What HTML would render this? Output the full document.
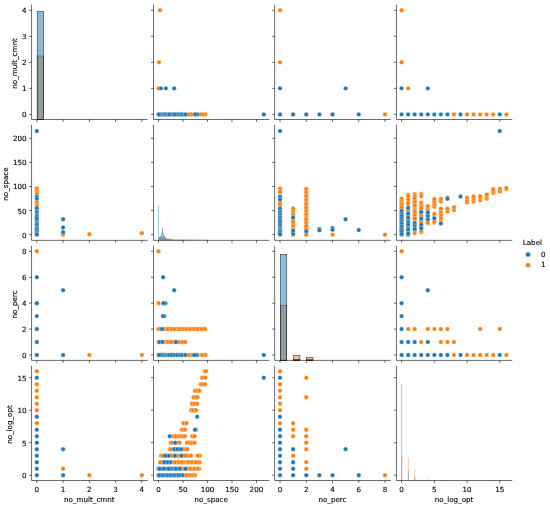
<!DOCTYPE html>
<html><head><meta charset="utf-8"><title>pairplot</title>
<style>html,body{margin:0;padding:0;background:#fff}body{width:550px;height:508px;overflow:hidden}</style>
</head><body>
<svg width="550" height="508" viewBox="0 0 550 508" style="display:block">
<rect width="550" height="508" fill="#fff"/>
<g>
<rect x="37.15" y="56.00" width="6.56" height="63.50" fill="#ff7f0e" fill-opacity="0.5" stroke="#000" stroke-width="0.42"/><rect x="37.15" y="11.40" width="6.56" height="108.10" fill="#1f77b4" fill-opacity="0.5" stroke="#000" stroke-width="0.42"/>
<path d="M31.55 5.10V119.50H147.15" fill="none" stroke="#000" stroke-width="0.58" stroke-linecap="square"/>
<path d="M36.85 119.50v2.5M63.10 119.50v2.5M89.35 119.50v2.5M115.60 119.50v2.5M141.85 119.50v2.5M31.55 114.40h-2.5M31.55 88.37h-2.5M31.55 62.34h-2.5M31.55 36.31h-2.5M31.55 10.28h-2.5" stroke="#000" stroke-width="0.58" fill="none"/>
</g>
<g>
<g stroke="#fff" stroke-width="0.34"><circle cx="204.04" cy="114.40" r="2.22" fill="#ff7f0e"/><circle cx="201.10" cy="114.40" r="2.22" fill="#ff7f0e"/><circle cx="190.33" cy="114.40" r="2.22" fill="#ff7f0e"/><circle cx="187.39" cy="114.40" r="2.22" fill="#ff7f0e"/><circle cx="162.91" cy="114.40" r="2.22" fill="#ff7f0e"/><circle cx="160.46" cy="114.40" r="2.22" fill="#ff7f0e"/><circle cx="158.50" cy="114.40" r="2.22" fill="#ff7f0e"/><circle cx="196.21" cy="114.40" r="2.22" fill="#1f77b4"/><circle cx="183.96" cy="114.40" r="2.22" fill="#1f77b4"/><circle cx="182.50" cy="114.40" r="2.22" fill="#1f77b4"/><circle cx="179.56" cy="114.40" r="2.22" fill="#1f77b4"/><circle cx="176.13" cy="114.40" r="2.22" fill="#1f77b4"/><circle cx="173.19" cy="114.40" r="2.22" fill="#1f77b4"/><circle cx="172.21" cy="114.40" r="2.22" fill="#1f77b4"/><circle cx="171.23" cy="114.40" r="2.22" fill="#1f77b4"/><circle cx="170.25" cy="114.40" r="2.22" fill="#1f77b4"/><circle cx="167.31" cy="114.40" r="2.22" fill="#1f77b4"/><circle cx="164.87" cy="114.40" r="2.22" fill="#1f77b4"/><circle cx="162.91" cy="114.40" r="2.22" fill="#1f77b4"/><circle cx="160.95" cy="114.40" r="2.22" fill="#1f77b4"/><circle cx="158.99" cy="114.40" r="2.22" fill="#1f77b4"/><circle cx="205.51" cy="114.40" r="2.22" fill="#ff7f0e"/><circle cx="202.57" cy="114.40" r="2.22" fill="#ff7f0e"/><circle cx="200.12" cy="114.40" r="2.22" fill="#ff7f0e"/><circle cx="191.31" cy="114.40" r="2.22" fill="#ff7f0e"/><circle cx="188.37" cy="114.40" r="2.22" fill="#ff7f0e"/><circle cx="197.19" cy="114.40" r="2.22" fill="#1f77b4"/><circle cx="194.98" cy="114.40" r="2.22" fill="#1f77b4"/><circle cx="185.43" cy="114.40" r="2.22" fill="#1f77b4"/><circle cx="181.52" cy="114.40" r="2.22" fill="#1f77b4"/><circle cx="178.58" cy="114.40" r="2.22" fill="#1f77b4"/><circle cx="176.62" cy="114.40" r="2.22" fill="#1f77b4"/><circle cx="174.42" cy="114.40" r="2.22" fill="#1f77b4"/><circle cx="168.54" cy="114.40" r="2.22" fill="#1f77b4"/><circle cx="165.60" cy="114.40" r="2.22" fill="#1f77b4"/><circle cx="163.89" cy="114.40" r="2.22" fill="#1f77b4"/><circle cx="161.93" cy="114.40" r="2.22" fill="#1f77b4"/><circle cx="160.26" cy="114.40" r="2.22" fill="#1f77b4"/><circle cx="158.74" cy="114.40" r="2.22" fill="#1f77b4"/><circle cx="263.79" cy="114.40" r="2.22" fill="#1f77b4"/><circle cx="158.50" cy="88.37" r="2.22" fill="#ff7f0e"/><circle cx="160.95" cy="88.37" r="2.22" fill="#1f77b4"/><circle cx="165.85" cy="88.37" r="2.22" fill="#1f77b4"/><circle cx="174.17" cy="88.37" r="2.22" fill="#1f77b4"/><circle cx="158.99" cy="62.34" r="2.22" fill="#ff7f0e"/><circle cx="159.97" cy="10.28" r="2.22" fill="#ff7f0e"/></g>
<path d="M153.50 5.10V119.50H269.00" fill="none" stroke="#000" stroke-width="0.58" stroke-linecap="square"/>
<path d="M158.50 119.50v2.5M182.99 119.50v2.5M207.47 119.50v2.5M231.95 119.50v2.5M256.44 119.50v2.5M153.50 114.40h-2.5M153.50 88.37h-2.5M153.50 62.34h-2.5M153.50 36.31h-2.5M153.50 10.28h-2.5" stroke="#000" stroke-width="0.58" fill="none"/>
</g>
<g>
<g stroke="#fff" stroke-width="0.34"><circle cx="280.00" cy="114.40" r="2.22" fill="#ff7f0e"/><circle cx="293.12" cy="114.40" r="2.22" fill="#ff7f0e"/><circle cx="306.25" cy="114.40" r="2.22" fill="#ff7f0e"/><circle cx="332.50" cy="114.40" r="2.22" fill="#ff7f0e"/><circle cx="385.00" cy="114.40" r="2.22" fill="#ff7f0e"/><circle cx="280.00" cy="114.40" r="2.22" fill="#1f77b4"/><circle cx="293.12" cy="114.40" r="2.22" fill="#1f77b4"/><circle cx="306.25" cy="114.40" r="2.22" fill="#1f77b4"/><circle cx="319.38" cy="114.40" r="2.22" fill="#1f77b4"/><circle cx="332.50" cy="114.40" r="2.22" fill="#1f77b4"/><circle cx="358.75" cy="114.40" r="2.22" fill="#1f77b4"/><circle cx="280.00" cy="88.37" r="2.22" fill="#1f77b4"/><circle cx="345.62" cy="88.37" r="2.22" fill="#1f77b4"/><circle cx="280.00" cy="62.34" r="2.22" fill="#ff7f0e"/><circle cx="280.00" cy="10.28" r="2.22" fill="#ff7f0e"/></g>
<path d="M274.65 5.10V119.50H390.30" fill="none" stroke="#000" stroke-width="0.58" stroke-linecap="square"/>
<path d="M280.00 119.50v2.5M306.25 119.50v2.5M332.50 119.50v2.5M358.75 119.50v2.5M385.00 119.50v2.5M274.65 114.40h-2.5M274.65 88.37h-2.5M274.65 62.34h-2.5M274.65 36.31h-2.5M274.65 10.28h-2.5" stroke="#000" stroke-width="0.58" fill="none"/>
</g>
<g>
<g stroke="#fff" stroke-width="0.34"><circle cx="401.60" cy="114.40" r="2.22" fill="#1f77b4"/><circle cx="408.15" cy="114.40" r="2.22" fill="#1f77b4"/><circle cx="414.69" cy="114.40" r="2.22" fill="#1f77b4"/><circle cx="421.24" cy="114.40" r="2.22" fill="#1f77b4"/><circle cx="427.79" cy="114.40" r="2.22" fill="#1f77b4"/><circle cx="434.34" cy="114.40" r="2.22" fill="#1f77b4"/><circle cx="440.88" cy="114.40" r="2.22" fill="#1f77b4"/><circle cx="447.43" cy="114.40" r="2.22" fill="#1f77b4"/><circle cx="453.98" cy="114.40" r="2.22" fill="#ff7f0e"/><circle cx="460.52" cy="114.40" r="2.22" fill="#1f77b4"/><circle cx="467.07" cy="114.40" r="2.22" fill="#ff7f0e"/><circle cx="473.62" cy="114.40" r="2.22" fill="#ff7f0e"/><circle cx="480.16" cy="114.40" r="2.22" fill="#ff7f0e"/><circle cx="486.71" cy="114.40" r="2.22" fill="#ff7f0e"/><circle cx="493.26" cy="114.40" r="2.22" fill="#ff7f0e"/><circle cx="499.81" cy="114.40" r="2.22" fill="#1f77b4"/><circle cx="506.35" cy="114.40" r="2.22" fill="#ff7f0e"/><circle cx="401.60" cy="88.37" r="2.22" fill="#1f77b4"/><circle cx="408.15" cy="88.37" r="2.22" fill="#ff7f0e"/><circle cx="427.79" cy="88.37" r="2.22" fill="#1f77b4"/><circle cx="401.60" cy="62.34" r="2.22" fill="#ff7f0e"/><circle cx="401.60" cy="10.28" r="2.22" fill="#ff7f0e"/></g>
<path d="M396.45 5.10V119.50H511.80" fill="none" stroke="#000" stroke-width="0.58" stroke-linecap="square"/>
<path d="M401.60 119.50v2.5M434.34 119.50v2.5M467.07 119.50v2.5M499.81 119.50v2.5M396.45 114.40h-2.5M396.45 88.37h-2.5M396.45 62.34h-2.5M396.45 36.31h-2.5M396.45 10.28h-2.5" stroke="#000" stroke-width="0.58" fill="none"/>
</g>
<g>
<g stroke="#fff" stroke-width="0.34"><circle cx="36.85" cy="189.84" r="2.22" fill="#ff7f0e"/><circle cx="36.85" cy="192.73" r="2.22" fill="#ff7f0e"/><circle cx="36.85" cy="203.33" r="2.22" fill="#ff7f0e"/><circle cx="36.85" cy="206.22" r="2.22" fill="#ff7f0e"/><circle cx="36.85" cy="230.31" r="2.22" fill="#ff7f0e"/><circle cx="36.85" cy="232.72" r="2.22" fill="#ff7f0e"/><circle cx="36.85" cy="234.65" r="2.22" fill="#ff7f0e"/><circle cx="36.85" cy="197.55" r="2.22" fill="#1f77b4"/><circle cx="36.85" cy="209.60" r="2.22" fill="#1f77b4"/><circle cx="36.85" cy="211.04" r="2.22" fill="#1f77b4"/><circle cx="36.85" cy="213.93" r="2.22" fill="#1f77b4"/><circle cx="36.85" cy="217.31" r="2.22" fill="#1f77b4"/><circle cx="36.85" cy="220.20" r="2.22" fill="#1f77b4"/><circle cx="36.85" cy="221.16" r="2.22" fill="#1f77b4"/><circle cx="36.85" cy="222.12" r="2.22" fill="#1f77b4"/><circle cx="36.85" cy="223.09" r="2.22" fill="#1f77b4"/><circle cx="36.85" cy="225.98" r="2.22" fill="#1f77b4"/><circle cx="36.85" cy="228.39" r="2.22" fill="#1f77b4"/><circle cx="36.85" cy="230.31" r="2.22" fill="#1f77b4"/><circle cx="36.85" cy="232.24" r="2.22" fill="#1f77b4"/><circle cx="36.85" cy="234.17" r="2.22" fill="#1f77b4"/><circle cx="36.85" cy="188.40" r="2.22" fill="#ff7f0e"/><circle cx="36.85" cy="191.29" r="2.22" fill="#ff7f0e"/><circle cx="36.85" cy="193.70" r="2.22" fill="#ff7f0e"/><circle cx="36.85" cy="202.37" r="2.22" fill="#ff7f0e"/><circle cx="36.85" cy="205.26" r="2.22" fill="#ff7f0e"/><circle cx="36.85" cy="196.59" r="2.22" fill="#1f77b4"/><circle cx="36.85" cy="198.76" r="2.22" fill="#1f77b4"/><circle cx="36.85" cy="208.15" r="2.22" fill="#1f77b4"/><circle cx="36.85" cy="212.01" r="2.22" fill="#1f77b4"/><circle cx="36.85" cy="214.90" r="2.22" fill="#1f77b4"/><circle cx="36.85" cy="216.82" r="2.22" fill="#1f77b4"/><circle cx="36.85" cy="218.99" r="2.22" fill="#1f77b4"/><circle cx="36.85" cy="224.77" r="2.22" fill="#1f77b4"/><circle cx="36.85" cy="227.66" r="2.22" fill="#1f77b4"/><circle cx="36.85" cy="229.35" r="2.22" fill="#1f77b4"/><circle cx="36.85" cy="231.28" r="2.22" fill="#1f77b4"/><circle cx="36.85" cy="232.92" r="2.22" fill="#1f77b4"/><circle cx="36.85" cy="234.41" r="2.22" fill="#1f77b4"/><circle cx="36.85" cy="131.06" r="2.22" fill="#1f77b4"/><circle cx="63.10" cy="234.65" r="2.22" fill="#ff7f0e"/><circle cx="63.10" cy="232.24" r="2.22" fill="#1f77b4"/><circle cx="63.10" cy="227.42" r="2.22" fill="#1f77b4"/><circle cx="63.10" cy="219.23" r="2.22" fill="#1f77b4"/><circle cx="89.35" cy="234.17" r="2.22" fill="#ff7f0e"/><circle cx="141.85" cy="233.20" r="2.22" fill="#ff7f0e"/></g>
<path d="M31.55 125.30V240.35H147.15" fill="none" stroke="#000" stroke-width="0.58" stroke-linecap="square"/>
<path d="M36.85 240.35v2.5M63.10 240.35v2.5M89.35 240.35v2.5M115.60 240.35v2.5M141.85 240.35v2.5M31.55 234.65h-2.5M31.55 210.56h-2.5M31.55 186.47h-2.5M31.55 162.38h-2.5M31.55 138.29h-2.5" stroke="#000" stroke-width="0.58" fill="none"/>
</g>
<g>
<rect x="158.00" y="237.35" width="1.00" height="3.00" fill="#ff7f0e" fill-opacity="0.5"/><rect x="159.00" y="237.35" width="1.00" height="3.00" fill="#ff7f0e" fill-opacity="0.5"/><rect x="160.00" y="237.35" width="1.00" height="3.00" fill="#ff7f0e" fill-opacity="0.5"/><rect x="161.00" y="237.35" width="1.00" height="3.00" fill="#ff7f0e" fill-opacity="0.5"/><rect x="162.00" y="237.35" width="1.00" height="3.00" fill="#ff7f0e" fill-opacity="0.5"/><rect x="163.00" y="237.35" width="1.00" height="3.00" fill="#ff7f0e" fill-opacity="0.5"/><rect x="164.00" y="237.35" width="1.00" height="3.00" fill="#ff7f0e" fill-opacity="0.5"/><rect x="165.00" y="237.35" width="1.00" height="3.00" fill="#ff7f0e" fill-opacity="0.5"/><rect x="166.00" y="238.45" width="1.00" height="1.90" fill="#ff7f0e" fill-opacity="0.5"/><rect x="167.00" y="238.45" width="1.00" height="1.90" fill="#ff7f0e" fill-opacity="0.5"/><rect x="168.00" y="238.45" width="1.00" height="1.90" fill="#ff7f0e" fill-opacity="0.5"/><rect x="169.00" y="238.45" width="1.00" height="1.90" fill="#ff7f0e" fill-opacity="0.5"/><rect x="170.00" y="238.45" width="1.00" height="1.90" fill="#ff7f0e" fill-opacity="0.5"/><rect x="171.00" y="238.45" width="1.00" height="1.90" fill="#ff7f0e" fill-opacity="0.5"/><rect x="172.00" y="239.25" width="1.00" height="1.10" fill="#ff7f0e" fill-opacity="0.38"/><rect x="173.00" y="239.25" width="1.00" height="1.10" fill="#ff7f0e" fill-opacity="0.38"/><rect x="174.00" y="239.25" width="1.00" height="1.10" fill="#ff7f0e" fill-opacity="0.38"/><rect x="175.00" y="239.25" width="1.00" height="1.10" fill="#ff7f0e" fill-opacity="0.38"/><rect x="176.00" y="239.25" width="1.00" height="1.10" fill="#ff7f0e" fill-opacity="0.38"/><rect x="177.00" y="239.25" width="1.00" height="1.10" fill="#ff7f0e" fill-opacity="0.38"/><rect x="178.00" y="239.25" width="1.00" height="1.10" fill="#ff7f0e" fill-opacity="0.38"/><rect x="179.00" y="239.25" width="1.00" height="1.10" fill="#ff7f0e" fill-opacity="0.38"/><rect x="180.00" y="239.25" width="1.00" height="1.10" fill="#ff7f0e" fill-opacity="0.38"/><rect x="181.00" y="239.25" width="1.00" height="1.10" fill="#ff7f0e" fill-opacity="0.38"/><rect x="182.00" y="239.25" width="1.00" height="1.10" fill="#ff7f0e" fill-opacity="0.38"/><rect x="183.00" y="239.25" width="1.00" height="1.10" fill="#ff7f0e" fill-opacity="0.38"/><rect x="184.00" y="239.25" width="1.00" height="1.10" fill="#ff7f0e" fill-opacity="0.38"/><rect x="185.00" y="239.25" width="1.00" height="1.10" fill="#ff7f0e" fill-opacity="0.38"/><rect x="186.00" y="239.25" width="1.00" height="1.10" fill="#ff7f0e" fill-opacity="0.38"/><rect x="187.00" y="239.25" width="1.00" height="1.10" fill="#ff7f0e" fill-opacity="0.38"/><rect x="188.00" y="239.25" width="1.00" height="1.10" fill="#ff7f0e" fill-opacity="0.38"/><rect x="189.00" y="239.25" width="1.00" height="1.10" fill="#ff7f0e" fill-opacity="0.38"/><rect x="190.00" y="239.45" width="1.00" height="0.90" fill="#ff7f0e" fill-opacity="0.38"/><rect x="191.00" y="239.45" width="1.00" height="0.90" fill="#ff7f0e" fill-opacity="0.38"/><rect x="192.00" y="239.45" width="1.00" height="0.90" fill="#ff7f0e" fill-opacity="0.38"/><rect x="193.00" y="239.45" width="1.00" height="0.90" fill="#ff7f0e" fill-opacity="0.38"/><rect x="194.00" y="239.45" width="1.00" height="0.90" fill="#ff7f0e" fill-opacity="0.38"/><rect x="195.00" y="239.45" width="1.00" height="0.90" fill="#ff7f0e" fill-opacity="0.38"/><rect x="196.00" y="239.45" width="1.00" height="0.90" fill="#ff7f0e" fill-opacity="0.38"/><rect x="197.00" y="239.45" width="1.00" height="0.90" fill="#ff7f0e" fill-opacity="0.38"/><rect x="198.00" y="239.45" width="1.00" height="0.90" fill="#ff7f0e" fill-opacity="0.38"/><rect x="199.00" y="239.45" width="1.00" height="0.90" fill="#ff7f0e" fill-opacity="0.38"/><rect x="200.00" y="239.45" width="1.00" height="0.90" fill="#ff7f0e" fill-opacity="0.38"/><rect x="201.00" y="239.45" width="1.00" height="0.90" fill="#ff7f0e" fill-opacity="0.38"/><rect x="202.00" y="239.45" width="1.00" height="0.90" fill="#ff7f0e" fill-opacity="0.38"/><rect x="203.00" y="239.45" width="1.00" height="0.90" fill="#ff7f0e" fill-opacity="0.38"/><rect x="204.00" y="239.45" width="1.00" height="0.90" fill="#ff7f0e" fill-opacity="0.38"/><rect x="205.00" y="239.45" width="1.00" height="0.90" fill="#ff7f0e" fill-opacity="0.38"/><rect x="206.00" y="239.45" width="1.00" height="0.90" fill="#ff7f0e" fill-opacity="0.38"/><rect x="158.00" y="205.35" width="1.00" height="35.00" fill="#1f77b4" fill-opacity="0.42"/><rect x="159.00" y="236.85" width="1.00" height="3.50" fill="#1f77b4" fill-opacity="0.55"/><rect x="160.00" y="235.85" width="1.00" height="4.50" fill="#1f77b4" fill-opacity="0.55"/><rect x="161.00" y="232.85" width="1.00" height="7.50" fill="#1f77b4" fill-opacity="0.55"/><rect x="162.00" y="228.35" width="1.00" height="12.00" fill="#1f77b4" fill-opacity="0.55"/><rect x="163.00" y="233.35" width="1.00" height="7.00" fill="#1f77b4" fill-opacity="0.55"/><rect x="164.00" y="235.35" width="1.00" height="5.00" fill="#1f77b4" fill-opacity="0.55"/><rect x="165.00" y="237.35" width="1.00" height="3.00" fill="#1f77b4" fill-opacity="0.55"/><rect x="166.00" y="238.35" width="1.00" height="2.00" fill="#1f77b4" fill-opacity="0.55"/><rect x="167.00" y="238.85" width="1.00" height="1.50" fill="#1f77b4" fill-opacity="0.55"/><rect x="168.00" y="239.15" width="1.00" height="1.20" fill="#1f77b4" fill-opacity="0.55"/><rect x="169.00" y="239.35" width="1.00" height="1.00" fill="#1f77b4" fill-opacity="0.55"/><rect x="170.00" y="239.35" width="1.00" height="1.00" fill="#1f77b4" fill-opacity="0.55"/><rect x="171.00" y="239.55" width="1.00" height="0.80" fill="#1f77b4" fill-opacity="0.55"/><rect x="172.00" y="239.55" width="1.00" height="0.80" fill="#1f77b4" fill-opacity="0.55"/><rect x="173.00" y="239.85" width="1.00" height="0.50" fill="#1f77b4" fill-opacity="0.55"/><rect x="174.00" y="239.85" width="1.00" height="0.50" fill="#1f77b4" fill-opacity="0.55"/><rect x="175.00" y="239.85" width="1.00" height="0.50" fill="#1f77b4" fill-opacity="0.55"/><rect x="176.00" y="239.85" width="1.00" height="0.50" fill="#1f77b4" fill-opacity="0.55"/><rect x="177.00" y="239.85" width="1.00" height="0.50" fill="#1f77b4" fill-opacity="0.55"/><rect x="178.00" y="239.85" width="1.00" height="0.50" fill="#1f77b4" fill-opacity="0.55"/><rect x="179.00" y="239.85" width="1.00" height="0.50" fill="#1f77b4" fill-opacity="0.55"/><rect x="180.00" y="239.85" width="1.00" height="0.50" fill="#1f77b4" fill-opacity="0.55"/><rect x="181.00" y="239.85" width="1.00" height="0.50" fill="#1f77b4" fill-opacity="0.55"/><rect x="182.00" y="239.85" width="1.00" height="0.50" fill="#1f77b4" fill-opacity="0.55"/><rect x="183.00" y="239.85" width="1.00" height="0.50" fill="#1f77b4" fill-opacity="0.55"/><rect x="184.00" y="239.85" width="1.00" height="0.50" fill="#1f77b4" fill-opacity="0.55"/><rect x="185.00" y="239.85" width="1.00" height="0.50" fill="#1f77b4" fill-opacity="0.55"/>
<path d="M153.50 125.30V240.35H269.00" fill="none" stroke="#000" stroke-width="0.58" stroke-linecap="square"/>
<path d="M158.50 240.35v2.5M182.99 240.35v2.5M207.47 240.35v2.5M231.95 240.35v2.5M256.44 240.35v2.5M153.50 234.65h-2.5M153.50 210.56h-2.5M153.50 186.47h-2.5M153.50 162.38h-2.5M153.50 138.29h-2.5" stroke="#000" stroke-width="0.58" fill="none"/>
</g>
<g>
<g stroke="#fff" stroke-width="0.34"><circle cx="280.00" cy="189.84" r="2.22" fill="#ff7f0e"/><circle cx="280.00" cy="192.73" r="2.22" fill="#ff7f0e"/><circle cx="280.00" cy="203.33" r="2.22" fill="#ff7f0e"/><circle cx="280.00" cy="206.22" r="2.22" fill="#ff7f0e"/><circle cx="280.00" cy="230.31" r="2.22" fill="#ff7f0e"/><circle cx="280.00" cy="232.72" r="2.22" fill="#ff7f0e"/><circle cx="280.00" cy="234.65" r="2.22" fill="#ff7f0e"/><circle cx="280.00" cy="197.55" r="2.22" fill="#1f77b4"/><circle cx="280.00" cy="209.60" r="2.22" fill="#1f77b4"/><circle cx="280.00" cy="211.04" r="2.22" fill="#1f77b4"/><circle cx="280.00" cy="213.93" r="2.22" fill="#1f77b4"/><circle cx="280.00" cy="217.31" r="2.22" fill="#1f77b4"/><circle cx="280.00" cy="220.20" r="2.22" fill="#1f77b4"/><circle cx="280.00" cy="221.16" r="2.22" fill="#1f77b4"/><circle cx="280.00" cy="222.12" r="2.22" fill="#1f77b4"/><circle cx="280.00" cy="223.09" r="2.22" fill="#1f77b4"/><circle cx="280.00" cy="225.98" r="2.22" fill="#1f77b4"/><circle cx="280.00" cy="228.39" r="2.22" fill="#1f77b4"/><circle cx="280.00" cy="230.31" r="2.22" fill="#1f77b4"/><circle cx="280.00" cy="232.24" r="2.22" fill="#1f77b4"/><circle cx="280.00" cy="234.17" r="2.22" fill="#1f77b4"/><circle cx="280.00" cy="188.40" r="2.22" fill="#ff7f0e"/><circle cx="280.00" cy="191.77" r="2.22" fill="#ff7f0e"/><circle cx="280.00" cy="201.89" r="2.22" fill="#ff7f0e"/><circle cx="280.00" cy="204.78" r="2.22" fill="#ff7f0e"/><circle cx="280.00" cy="196.83" r="2.22" fill="#1f77b4"/><circle cx="280.00" cy="199.48" r="2.22" fill="#1f77b4"/><circle cx="280.00" cy="208.39" r="2.22" fill="#1f77b4"/><circle cx="280.00" cy="212.01" r="2.22" fill="#1f77b4"/><circle cx="280.00" cy="214.90" r="2.22" fill="#1f77b4"/><circle cx="280.00" cy="217.31" r="2.22" fill="#1f77b4"/><circle cx="280.00" cy="219.71" r="2.22" fill="#1f77b4"/><circle cx="280.00" cy="222.12" r="2.22" fill="#1f77b4"/><circle cx="280.00" cy="224.77" r="2.22" fill="#1f77b4"/><circle cx="280.00" cy="227.42" r="2.22" fill="#1f77b4"/><circle cx="280.00" cy="229.35" r="2.22" fill="#1f77b4"/><circle cx="280.00" cy="230.80" r="2.22" fill="#1f77b4"/><circle cx="280.00" cy="232.24" r="2.22" fill="#1f77b4"/><circle cx="280.00" cy="234.17" r="2.22" fill="#1f77b4"/><circle cx="280.00" cy="131.06" r="2.22" fill="#1f77b4"/><circle cx="293.12" cy="233.20" r="2.22" fill="#ff7f0e"/><circle cx="293.12" cy="228.87" r="2.22" fill="#ff7f0e"/><circle cx="293.12" cy="224.05" r="2.22" fill="#ff7f0e"/><circle cx="293.12" cy="220.20" r="2.22" fill="#ff7f0e"/><circle cx="293.12" cy="215.38" r="2.22" fill="#ff7f0e"/><circle cx="293.12" cy="212.97" r="2.22" fill="#ff7f0e"/><circle cx="293.12" cy="209.60" r="2.22" fill="#ff7f0e"/><circle cx="293.12" cy="234.65" r="2.22" fill="#ff7f0e"/><circle cx="293.12" cy="227.42" r="2.22" fill="#ff7f0e"/><circle cx="293.12" cy="225.50" r="2.22" fill="#ff7f0e"/><circle cx="293.12" cy="222.12" r="2.22" fill="#ff7f0e"/><circle cx="293.12" cy="213.93" r="2.22" fill="#ff7f0e"/><circle cx="293.12" cy="211.04" r="2.22" fill="#ff7f0e"/><circle cx="293.12" cy="208.39" r="2.22" fill="#ff7f0e"/><circle cx="293.12" cy="233.69" r="2.22" fill="#1f77b4"/><circle cx="293.12" cy="230.80" r="2.22" fill="#1f77b4"/><circle cx="293.12" cy="217.50" r="2.22" fill="#1f77b4"/><circle cx="306.25" cy="233.20" r="2.22" fill="#ff7f0e"/><circle cx="306.25" cy="229.83" r="2.22" fill="#ff7f0e"/><circle cx="306.25" cy="226.94" r="2.22" fill="#ff7f0e"/><circle cx="306.25" cy="224.05" r="2.22" fill="#ff7f0e"/><circle cx="306.25" cy="220.68" r="2.22" fill="#ff7f0e"/><circle cx="306.25" cy="217.31" r="2.22" fill="#ff7f0e"/><circle cx="306.25" cy="215.38" r="2.22" fill="#ff7f0e"/><circle cx="306.25" cy="212.49" r="2.22" fill="#ff7f0e"/><circle cx="306.25" cy="209.11" r="2.22" fill="#ff7f0e"/><circle cx="306.25" cy="205.74" r="2.22" fill="#ff7f0e"/><circle cx="306.25" cy="201.89" r="2.22" fill="#ff7f0e"/><circle cx="306.25" cy="197.55" r="2.22" fill="#ff7f0e"/><circle cx="306.25" cy="194.18" r="2.22" fill="#ff7f0e"/><circle cx="306.25" cy="190.81" r="2.22" fill="#ff7f0e"/><circle cx="306.25" cy="234.65" r="2.22" fill="#ff7f0e"/><circle cx="306.25" cy="228.39" r="2.22" fill="#ff7f0e"/><circle cx="306.25" cy="225.50" r="2.22" fill="#ff7f0e"/><circle cx="306.25" cy="222.12" r="2.22" fill="#ff7f0e"/><circle cx="306.25" cy="219.23" r="2.22" fill="#ff7f0e"/><circle cx="306.25" cy="213.93" r="2.22" fill="#ff7f0e"/><circle cx="306.25" cy="210.56" r="2.22" fill="#ff7f0e"/><circle cx="306.25" cy="207.43" r="2.22" fill="#ff7f0e"/><circle cx="306.25" cy="203.81" r="2.22" fill="#ff7f0e"/><circle cx="306.25" cy="199.48" r="2.22" fill="#ff7f0e"/><circle cx="306.25" cy="196.11" r="2.22" fill="#ff7f0e"/><circle cx="306.25" cy="192.25" r="2.22" fill="#ff7f0e"/><circle cx="306.25" cy="188.88" r="2.22" fill="#ff7f0e"/><circle cx="306.25" cy="231.28" r="2.22" fill="#1f77b4"/><circle cx="319.38" cy="228.87" r="2.22" fill="#1f77b4"/><circle cx="319.38" cy="230.31" r="2.22" fill="#1f77b4"/><circle cx="332.50" cy="227.90" r="2.22" fill="#1f77b4"/><circle cx="332.50" cy="234.65" r="2.22" fill="#ff7f0e"/><circle cx="332.50" cy="229.83" r="2.22" fill="#1f77b4"/><circle cx="345.62" cy="219.23" r="2.22" fill="#1f77b4"/><circle cx="358.75" cy="230.07" r="2.22" fill="#1f77b4"/><circle cx="385.00" cy="234.65" r="2.22" fill="#ff7f0e"/></g>
<path d="M274.65 125.30V240.35H390.30" fill="none" stroke="#000" stroke-width="0.58" stroke-linecap="square"/>
<path d="M280.00 240.35v2.5M306.25 240.35v2.5M332.50 240.35v2.5M358.75 240.35v2.5M385.00 240.35v2.5M274.65 234.65h-2.5M274.65 210.56h-2.5M274.65 186.47h-2.5M274.65 162.38h-2.5M274.65 138.29h-2.5" stroke="#000" stroke-width="0.58" fill="none"/>
</g>
<g>
<g stroke="#fff" stroke-width="0.34"><circle cx="401.60" cy="200.44" r="2.22" fill="#ff7f0e"/><circle cx="401.60" cy="203.33" r="2.22" fill="#ff7f0e"/><circle cx="401.60" cy="205.74" r="2.22" fill="#ff7f0e"/><circle cx="401.60" cy="208.63" r="2.22" fill="#ff7f0e"/><circle cx="401.60" cy="212.97" r="2.22" fill="#1f77b4"/><circle cx="401.60" cy="215.38" r="2.22" fill="#1f77b4"/><circle cx="401.60" cy="217.79" r="2.22" fill="#1f77b4"/><circle cx="401.60" cy="220.20" r="2.22" fill="#1f77b4"/><circle cx="401.60" cy="222.61" r="2.22" fill="#1f77b4"/><circle cx="401.60" cy="225.01" r="2.22" fill="#1f77b4"/><circle cx="401.60" cy="227.90" r="2.22" fill="#1f77b4"/><circle cx="401.60" cy="230.31" r="2.22" fill="#1f77b4"/><circle cx="401.60" cy="232.72" r="2.22" fill="#1f77b4"/><circle cx="401.60" cy="234.65" r="2.22" fill="#1f77b4"/><circle cx="401.60" cy="198.71" r="2.22" fill="#ff7f0e"/><circle cx="401.60" cy="201.89" r="2.22" fill="#ff7f0e"/><circle cx="401.60" cy="204.44" r="2.22" fill="#ff7f0e"/><circle cx="401.60" cy="207.19" r="2.22" fill="#ff7f0e"/><circle cx="401.60" cy="211.04" r="2.22" fill="#1f77b4"/><circle cx="401.60" cy="214.17" r="2.22" fill="#1f77b4"/><circle cx="401.60" cy="216.34" r="2.22" fill="#1f77b4"/><circle cx="401.60" cy="218.99" r="2.22" fill="#1f77b4"/><circle cx="401.60" cy="221.64" r="2.22" fill="#1f77b4"/><circle cx="401.60" cy="223.86" r="2.22" fill="#1f77b4"/><circle cx="401.60" cy="226.46" r="2.22" fill="#1f77b4"/><circle cx="401.60" cy="229.16" r="2.22" fill="#1f77b4"/><circle cx="401.60" cy="231.33" r="2.22" fill="#1f77b4"/><circle cx="401.60" cy="233.98" r="2.22" fill="#1f77b4"/><circle cx="408.15" cy="194.66" r="2.22" fill="#ff7f0e"/><circle cx="408.15" cy="198.03" r="2.22" fill="#ff7f0e"/><circle cx="408.15" cy="201.89" r="2.22" fill="#ff7f0e"/><circle cx="408.15" cy="205.74" r="2.22" fill="#ff7f0e"/><circle cx="408.15" cy="212.01" r="2.22" fill="#1f77b4"/><circle cx="408.15" cy="215.86" r="2.22" fill="#1f77b4"/><circle cx="408.15" cy="219.23" r="2.22" fill="#1f77b4"/><circle cx="408.15" cy="220.77" r="2.22" fill="#1f77b4"/><circle cx="408.15" cy="222.61" r="2.22" fill="#1f77b4"/><circle cx="408.15" cy="227.42" r="2.22" fill="#1f77b4"/><circle cx="408.15" cy="231.76" r="2.22" fill="#1f77b4"/><circle cx="408.15" cy="233.11" r="2.22" fill="#1f77b4"/><circle cx="408.15" cy="234.65" r="2.22" fill="#1f77b4"/><circle cx="408.15" cy="196.11" r="2.22" fill="#ff7f0e"/><circle cx="408.15" cy="199.62" r="2.22" fill="#ff7f0e"/><circle cx="408.15" cy="203.57" r="2.22" fill="#ff7f0e"/><circle cx="408.15" cy="210.56" r="2.22" fill="#ff7f0e"/><circle cx="408.15" cy="208.01" r="2.22" fill="#1f77b4"/><circle cx="408.15" cy="213.74" r="2.22" fill="#1f77b4"/><circle cx="408.15" cy="217.69" r="2.22" fill="#1f77b4"/><circle cx="408.15" cy="224.72" r="2.22" fill="#1f77b4"/><circle cx="408.15" cy="229.59" r="2.22" fill="#1f77b4"/><circle cx="408.15" cy="233.69" r="2.22" fill="#1f77b4"/><circle cx="414.69" cy="194.18" r="2.22" fill="#ff7f0e"/><circle cx="414.69" cy="196.11" r="2.22" fill="#ff7f0e"/><circle cx="414.69" cy="200.44" r="2.22" fill="#ff7f0e"/><circle cx="414.69" cy="203.81" r="2.22" fill="#ff7f0e"/><circle cx="414.69" cy="207.19" r="2.22" fill="#ff7f0e"/><circle cx="414.69" cy="209.11" r="2.22" fill="#ff7f0e"/><circle cx="414.69" cy="210.56" r="2.22" fill="#ff7f0e"/><circle cx="414.69" cy="213.93" r="2.22" fill="#ff7f0e"/><circle cx="414.69" cy="217.31" r="2.22" fill="#ff7f0e"/><circle cx="414.69" cy="220.20" r="2.22" fill="#ff7f0e"/><circle cx="414.69" cy="224.53" r="2.22" fill="#1f77b4"/><circle cx="414.69" cy="227.90" r="2.22" fill="#1f77b4"/><circle cx="414.69" cy="230.80" r="2.22" fill="#1f77b4"/><circle cx="414.69" cy="198.27" r="2.22" fill="#ff7f0e"/><circle cx="414.69" cy="202.27" r="2.22" fill="#ff7f0e"/><circle cx="414.69" cy="205.36" r="2.22" fill="#ff7f0e"/><circle cx="414.69" cy="212.01" r="2.22" fill="#ff7f0e"/><circle cx="414.69" cy="215.47" r="2.22" fill="#ff7f0e"/><circle cx="414.69" cy="218.56" r="2.22" fill="#ff7f0e"/><circle cx="414.69" cy="222.99" r="2.22" fill="#1f77b4"/><circle cx="414.69" cy="226.07" r="2.22" fill="#1f77b4"/><circle cx="414.69" cy="229.16" r="2.22" fill="#1f77b4"/><circle cx="414.69" cy="233.11" r="2.22" fill="#ff7f0e"/><circle cx="421.24" cy="193.70" r="2.22" fill="#ff7f0e"/><circle cx="421.24" cy="194.66" r="2.22" fill="#ff7f0e"/><circle cx="421.24" cy="204.30" r="2.22" fill="#ff7f0e"/><circle cx="421.24" cy="207.19" r="2.22" fill="#ff7f0e"/><circle cx="421.24" cy="209.60" r="2.22" fill="#ff7f0e"/><circle cx="421.24" cy="216.82" r="2.22" fill="#ff7f0e"/><circle cx="421.24" cy="223.09" r="2.22" fill="#ff7f0e"/><circle cx="421.24" cy="232.24" r="2.22" fill="#ff7f0e"/><circle cx="421.24" cy="226.46" r="2.22" fill="#1f77b4"/><circle cx="421.24" cy="196.11" r="2.22" fill="#ff7f0e"/><circle cx="421.24" cy="202.71" r="2.22" fill="#ff7f0e"/><circle cx="421.24" cy="206.22" r="2.22" fill="#ff7f0e"/><circle cx="421.24" cy="208.44" r="2.22" fill="#ff7f0e"/><circle cx="421.24" cy="215.04" r="2.22" fill="#ff7f0e"/><circle cx="421.24" cy="212.01" r="2.22" fill="#1f77b4"/><circle cx="421.24" cy="221.64" r="2.22" fill="#ff7f0e"/><circle cx="421.24" cy="218.56" r="2.22" fill="#1f77b4"/><circle cx="421.24" cy="230.89" r="2.22" fill="#ff7f0e"/><circle cx="421.24" cy="224.72" r="2.22" fill="#1f77b4"/><circle cx="421.24" cy="228.24" r="2.22" fill="#1f77b4"/><circle cx="427.79" cy="223.57" r="2.22" fill="#ff7f0e"/><circle cx="427.79" cy="208.15" r="2.22" fill="#ff7f0e"/><circle cx="427.79" cy="217.79" r="2.22" fill="#1f77b4"/><circle cx="427.79" cy="214.41" r="2.22" fill="#1f77b4"/><circle cx="427.79" cy="222.61" r="2.22" fill="#ff7f0e"/><circle cx="427.79" cy="209.60" r="2.22" fill="#ff7f0e"/><circle cx="427.79" cy="206.22" r="2.22" fill="#ff7f0e"/><circle cx="427.79" cy="219.23" r="2.22" fill="#1f77b4"/><circle cx="427.79" cy="215.86" r="2.22" fill="#1f77b4"/><circle cx="427.79" cy="212.49" r="2.22" fill="#1f77b4"/><circle cx="434.34" cy="222.61" r="2.22" fill="#ff7f0e"/><circle cx="434.34" cy="214.90" r="2.22" fill="#ff7f0e"/><circle cx="434.34" cy="205.74" r="2.22" fill="#ff7f0e"/><circle cx="434.34" cy="203.33" r="2.22" fill="#ff7f0e"/><circle cx="434.34" cy="200.44" r="2.22" fill="#ff7f0e"/><circle cx="434.34" cy="221.64" r="2.22" fill="#ff7f0e"/><circle cx="434.34" cy="213.93" r="2.22" fill="#ff7f0e"/><circle cx="434.34" cy="206.71" r="2.22" fill="#ff7f0e"/><circle cx="434.34" cy="204.30" r="2.22" fill="#ff7f0e"/><circle cx="434.34" cy="201.89" r="2.22" fill="#ff7f0e"/><circle cx="434.34" cy="199.00" r="2.22" fill="#ff7f0e"/><circle cx="434.34" cy="218.27" r="2.22" fill="#1f77b4"/><circle cx="440.88" cy="220.20" r="2.22" fill="#ff7f0e"/><circle cx="440.88" cy="216.82" r="2.22" fill="#ff7f0e"/><circle cx="440.88" cy="212.97" r="2.22" fill="#ff7f0e"/><circle cx="440.88" cy="210.08" r="2.22" fill="#ff7f0e"/><circle cx="440.88" cy="200.44" r="2.22" fill="#ff7f0e"/><circle cx="440.88" cy="219.23" r="2.22" fill="#ff7f0e"/><circle cx="440.88" cy="217.79" r="2.22" fill="#ff7f0e"/><circle cx="440.88" cy="214.41" r="2.22" fill="#ff7f0e"/><circle cx="440.88" cy="211.52" r="2.22" fill="#ff7f0e"/><circle cx="440.88" cy="208.63" r="2.22" fill="#ff7f0e"/><circle cx="440.88" cy="201.41" r="2.22" fill="#ff7f0e"/><circle cx="440.88" cy="199.00" r="2.22" fill="#ff7f0e"/><circle cx="440.88" cy="223.57" r="2.22" fill="#1f77b4"/><circle cx="447.43" cy="210.08" r="2.22" fill="#ff7f0e"/><circle cx="447.43" cy="197.55" r="2.22" fill="#ff7f0e"/><circle cx="447.43" cy="211.52" r="2.22" fill="#ff7f0e"/><circle cx="447.43" cy="208.63" r="2.22" fill="#ff7f0e"/><circle cx="447.43" cy="198.76" r="2.22" fill="#1f77b4"/><circle cx="453.98" cy="208.63" r="2.22" fill="#ff7f0e"/><circle cx="453.98" cy="210.08" r="2.22" fill="#ff7f0e"/><circle cx="453.98" cy="207.19" r="2.22" fill="#ff7f0e"/><circle cx="460.52" cy="196.59" r="2.22" fill="#1f77b4"/><circle cx="467.07" cy="201.41" r="2.22" fill="#ff7f0e"/><circle cx="467.07" cy="199.00" r="2.22" fill="#ff7f0e"/><circle cx="467.07" cy="202.61" r="2.22" fill="#ff7f0e"/><circle cx="467.07" cy="200.20" r="2.22" fill="#ff7f0e"/><circle cx="467.07" cy="197.74" r="2.22" fill="#ff7f0e"/><circle cx="473.62" cy="200.44" r="2.22" fill="#ff7f0e"/><circle cx="473.62" cy="197.55" r="2.22" fill="#ff7f0e"/><circle cx="473.62" cy="201.65" r="2.22" fill="#ff7f0e"/><circle cx="473.62" cy="199.00" r="2.22" fill="#ff7f0e"/><circle cx="473.62" cy="196.59" r="2.22" fill="#ff7f0e"/><circle cx="480.16" cy="199.00" r="2.22" fill="#ff7f0e"/><circle cx="480.16" cy="197.07" r="2.22" fill="#ff7f0e"/><circle cx="480.16" cy="200.20" r="2.22" fill="#ff7f0e"/><circle cx="480.16" cy="198.03" r="2.22" fill="#ff7f0e"/><circle cx="480.16" cy="196.30" r="2.22" fill="#ff7f0e"/><circle cx="486.71" cy="197.55" r="2.22" fill="#ff7f0e"/><circle cx="486.71" cy="195.62" r="2.22" fill="#ff7f0e"/><circle cx="486.71" cy="198.76" r="2.22" fill="#ff7f0e"/><circle cx="486.71" cy="196.59" r="2.22" fill="#ff7f0e"/><circle cx="486.71" cy="194.42" r="2.22" fill="#ff7f0e"/><circle cx="493.26" cy="192.25" r="2.22" fill="#ff7f0e"/><circle cx="493.26" cy="190.32" r="2.22" fill="#ff7f0e"/><circle cx="493.26" cy="192.97" r="2.22" fill="#ff7f0e"/><circle cx="493.26" cy="191.14" r="2.22" fill="#ff7f0e"/><circle cx="493.26" cy="189.12" r="2.22" fill="#ff7f0e"/><circle cx="499.81" cy="190.32" r="2.22" fill="#ff7f0e"/><circle cx="499.81" cy="191.58" r="2.22" fill="#ff7f0e"/><circle cx="499.81" cy="188.69" r="2.22" fill="#ff7f0e"/><circle cx="499.81" cy="131.06" r="2.22" fill="#1f77b4"/><circle cx="506.35" cy="189.12" r="2.22" fill="#ff7f0e"/><circle cx="506.35" cy="187.92" r="2.22" fill="#ff7f0e"/></g>
<path d="M396.45 125.30V240.35H511.80" fill="none" stroke="#000" stroke-width="0.58" stroke-linecap="square"/>
<path d="M401.60 240.35v2.5M434.34 240.35v2.5M467.07 240.35v2.5M499.81 240.35v2.5M396.45 234.65h-2.5M396.45 210.56h-2.5M396.45 186.47h-2.5M396.45 162.38h-2.5M396.45 138.29h-2.5" stroke="#000" stroke-width="0.58" fill="none"/>
</g>
<g>
<g stroke="#fff" stroke-width="0.34"><circle cx="36.85" cy="355.00" r="2.22" fill="#ff7f0e"/><circle cx="36.85" cy="342.04" r="2.22" fill="#ff7f0e"/><circle cx="36.85" cy="329.08" r="2.22" fill="#ff7f0e"/><circle cx="36.85" cy="303.16" r="2.22" fill="#ff7f0e"/><circle cx="36.85" cy="251.32" r="2.22" fill="#ff7f0e"/><circle cx="36.85" cy="355.00" r="2.22" fill="#1f77b4"/><circle cx="36.85" cy="342.04" r="2.22" fill="#1f77b4"/><circle cx="36.85" cy="329.08" r="2.22" fill="#1f77b4"/><circle cx="36.85" cy="316.12" r="2.22" fill="#1f77b4"/><circle cx="36.85" cy="303.16" r="2.22" fill="#1f77b4"/><circle cx="36.85" cy="277.24" r="2.22" fill="#1f77b4"/><circle cx="63.10" cy="355.00" r="2.22" fill="#1f77b4"/><circle cx="63.10" cy="290.20" r="2.22" fill="#1f77b4"/><circle cx="89.35" cy="355.00" r="2.22" fill="#ff7f0e"/><circle cx="141.85" cy="355.00" r="2.22" fill="#ff7f0e"/></g>
<path d="M31.55 246.10V360.40H147.15" fill="none" stroke="#000" stroke-width="0.58" stroke-linecap="square"/>
<path d="M36.85 360.40v2.5M63.10 360.40v2.5M89.35 360.40v2.5M115.60 360.40v2.5M141.85 360.40v2.5M31.55 355.00h-2.5M31.55 329.08h-2.5M31.55 303.16h-2.5M31.55 277.24h-2.5M31.55 251.32h-2.5" stroke="#000" stroke-width="0.58" fill="none"/>
</g>
<g>
<g stroke="#fff" stroke-width="0.34"><circle cx="204.04" cy="355.00" r="2.22" fill="#ff7f0e"/><circle cx="201.10" cy="355.00" r="2.22" fill="#ff7f0e"/><circle cx="190.33" cy="355.00" r="2.22" fill="#ff7f0e"/><circle cx="187.39" cy="355.00" r="2.22" fill="#ff7f0e"/><circle cx="162.91" cy="355.00" r="2.22" fill="#ff7f0e"/><circle cx="160.46" cy="355.00" r="2.22" fill="#ff7f0e"/><circle cx="158.50" cy="355.00" r="2.22" fill="#ff7f0e"/><circle cx="196.21" cy="355.00" r="2.22" fill="#1f77b4"/><circle cx="183.96" cy="355.00" r="2.22" fill="#1f77b4"/><circle cx="182.50" cy="355.00" r="2.22" fill="#1f77b4"/><circle cx="179.56" cy="355.00" r="2.22" fill="#1f77b4"/><circle cx="176.13" cy="355.00" r="2.22" fill="#1f77b4"/><circle cx="173.19" cy="355.00" r="2.22" fill="#1f77b4"/><circle cx="172.21" cy="355.00" r="2.22" fill="#1f77b4"/><circle cx="171.23" cy="355.00" r="2.22" fill="#1f77b4"/><circle cx="170.25" cy="355.00" r="2.22" fill="#1f77b4"/><circle cx="167.31" cy="355.00" r="2.22" fill="#1f77b4"/><circle cx="164.87" cy="355.00" r="2.22" fill="#1f77b4"/><circle cx="162.91" cy="355.00" r="2.22" fill="#1f77b4"/><circle cx="160.95" cy="355.00" r="2.22" fill="#1f77b4"/><circle cx="158.99" cy="355.00" r="2.22" fill="#1f77b4"/><circle cx="205.51" cy="355.00" r="2.22" fill="#ff7f0e"/><circle cx="202.08" cy="355.00" r="2.22" fill="#ff7f0e"/><circle cx="191.80" cy="355.00" r="2.22" fill="#ff7f0e"/><circle cx="188.86" cy="355.00" r="2.22" fill="#ff7f0e"/><circle cx="196.94" cy="355.00" r="2.22" fill="#1f77b4"/><circle cx="194.25" cy="355.00" r="2.22" fill="#1f77b4"/><circle cx="185.19" cy="355.00" r="2.22" fill="#1f77b4"/><circle cx="181.52" cy="355.00" r="2.22" fill="#1f77b4"/><circle cx="178.58" cy="355.00" r="2.22" fill="#1f77b4"/><circle cx="176.13" cy="355.00" r="2.22" fill="#1f77b4"/><circle cx="173.68" cy="355.00" r="2.22" fill="#1f77b4"/><circle cx="171.23" cy="355.00" r="2.22" fill="#1f77b4"/><circle cx="168.54" cy="355.00" r="2.22" fill="#1f77b4"/><circle cx="165.85" cy="355.00" r="2.22" fill="#1f77b4"/><circle cx="163.89" cy="355.00" r="2.22" fill="#1f77b4"/><circle cx="162.42" cy="355.00" r="2.22" fill="#1f77b4"/><circle cx="160.95" cy="355.00" r="2.22" fill="#1f77b4"/><circle cx="158.99" cy="355.00" r="2.22" fill="#1f77b4"/><circle cx="263.79" cy="355.00" r="2.22" fill="#1f77b4"/><circle cx="159.97" cy="342.04" r="2.22" fill="#ff7f0e"/><circle cx="164.38" cy="342.04" r="2.22" fill="#ff7f0e"/><circle cx="169.27" cy="342.04" r="2.22" fill="#ff7f0e"/><circle cx="173.19" cy="342.04" r="2.22" fill="#ff7f0e"/><circle cx="178.09" cy="342.04" r="2.22" fill="#ff7f0e"/><circle cx="180.54" cy="342.04" r="2.22" fill="#ff7f0e"/><circle cx="183.96" cy="342.04" r="2.22" fill="#ff7f0e"/><circle cx="158.50" cy="342.04" r="2.22" fill="#ff7f0e"/><circle cx="165.85" cy="342.04" r="2.22" fill="#ff7f0e"/><circle cx="167.80" cy="342.04" r="2.22" fill="#ff7f0e"/><circle cx="171.23" cy="342.04" r="2.22" fill="#ff7f0e"/><circle cx="179.56" cy="342.04" r="2.22" fill="#ff7f0e"/><circle cx="182.50" cy="342.04" r="2.22" fill="#ff7f0e"/><circle cx="185.19" cy="342.04" r="2.22" fill="#ff7f0e"/><circle cx="159.48" cy="342.04" r="2.22" fill="#1f77b4"/><circle cx="162.42" cy="342.04" r="2.22" fill="#1f77b4"/><circle cx="175.93" cy="342.04" r="2.22" fill="#1f77b4"/><circle cx="159.97" cy="329.08" r="2.22" fill="#ff7f0e"/><circle cx="163.40" cy="329.08" r="2.22" fill="#ff7f0e"/><circle cx="166.34" cy="329.08" r="2.22" fill="#ff7f0e"/><circle cx="169.27" cy="329.08" r="2.22" fill="#ff7f0e"/><circle cx="172.70" cy="329.08" r="2.22" fill="#ff7f0e"/><circle cx="176.13" cy="329.08" r="2.22" fill="#ff7f0e"/><circle cx="178.09" cy="329.08" r="2.22" fill="#ff7f0e"/><circle cx="181.03" cy="329.08" r="2.22" fill="#ff7f0e"/><circle cx="184.45" cy="329.08" r="2.22" fill="#ff7f0e"/><circle cx="187.88" cy="329.08" r="2.22" fill="#ff7f0e"/><circle cx="191.80" cy="329.08" r="2.22" fill="#ff7f0e"/><circle cx="196.21" cy="329.08" r="2.22" fill="#ff7f0e"/><circle cx="199.63" cy="329.08" r="2.22" fill="#ff7f0e"/><circle cx="203.06" cy="329.08" r="2.22" fill="#ff7f0e"/><circle cx="158.50" cy="329.08" r="2.22" fill="#ff7f0e"/><circle cx="164.87" cy="329.08" r="2.22" fill="#ff7f0e"/><circle cx="167.80" cy="329.08" r="2.22" fill="#ff7f0e"/><circle cx="171.23" cy="329.08" r="2.22" fill="#ff7f0e"/><circle cx="174.17" cy="329.08" r="2.22" fill="#ff7f0e"/><circle cx="179.56" cy="329.08" r="2.22" fill="#ff7f0e"/><circle cx="182.99" cy="329.08" r="2.22" fill="#ff7f0e"/><circle cx="186.17" cy="329.08" r="2.22" fill="#ff7f0e"/><circle cx="189.84" cy="329.08" r="2.22" fill="#ff7f0e"/><circle cx="194.25" cy="329.08" r="2.22" fill="#ff7f0e"/><circle cx="197.68" cy="329.08" r="2.22" fill="#ff7f0e"/><circle cx="201.59" cy="329.08" r="2.22" fill="#ff7f0e"/><circle cx="205.02" cy="329.08" r="2.22" fill="#ff7f0e"/><circle cx="161.93" cy="329.08" r="2.22" fill="#1f77b4"/><circle cx="164.38" cy="316.12" r="2.22" fill="#1f77b4"/><circle cx="162.91" cy="316.12" r="2.22" fill="#1f77b4"/><circle cx="165.36" cy="303.16" r="2.22" fill="#1f77b4"/><circle cx="158.50" cy="303.16" r="2.22" fill="#ff7f0e"/><circle cx="163.40" cy="303.16" r="2.22" fill="#1f77b4"/><circle cx="174.17" cy="290.20" r="2.22" fill="#1f77b4"/><circle cx="163.15" cy="277.24" r="2.22" fill="#1f77b4"/><circle cx="158.50" cy="251.32" r="2.22" fill="#ff7f0e"/></g>
<path d="M153.50 246.10V360.40H269.00" fill="none" stroke="#000" stroke-width="0.58" stroke-linecap="square"/>
<path d="M158.50 360.40v2.5M182.99 360.40v2.5M207.47 360.40v2.5M231.95 360.40v2.5M256.44 360.40v2.5M153.50 355.00h-2.5M153.50 329.08h-2.5M153.50 303.16h-2.5M153.50 277.24h-2.5M153.50 251.32h-2.5" stroke="#000" stroke-width="0.58" fill="none"/>
</g>
<g>
<rect x="280.25" y="305.70" width="6.56" height="54.70" fill="#ff7f0e" fill-opacity="0.5" stroke="#000" stroke-width="0.42"/><rect x="293.38" y="355.20" width="6.56" height="5.20" fill="#ff7f0e" fill-opacity="0.5" stroke="#000" stroke-width="0.42"/><rect x="306.50" y="357.20" width="6.56" height="3.20" fill="#ff7f0e" fill-opacity="0.5" stroke="#000" stroke-width="0.42"/><rect x="280.25" y="254.20" width="6.56" height="106.20" fill="#1f77b4" fill-opacity="0.5" stroke="#000" stroke-width="0.42"/><rect x="293.38" y="359.20" width="6.56" height="1.20" fill="#1f77b4" fill-opacity="0.5" stroke="#000" stroke-width="0.42"/><rect x="306.50" y="359.80" width="6.56" height="0.60" fill="#1f77b4" fill-opacity="0.5" stroke="#000" stroke-width="0.42"/>
<path d="M274.65 246.10V360.40H390.30" fill="none" stroke="#000" stroke-width="0.58" stroke-linecap="square"/>
<path d="M280.00 360.40v2.5M306.25 360.40v2.5M332.50 360.40v2.5M358.75 360.40v2.5M385.00 360.40v2.5M274.65 355.00h-2.5M274.65 329.08h-2.5M274.65 303.16h-2.5M274.65 277.24h-2.5M274.65 251.32h-2.5" stroke="#000" stroke-width="0.58" fill="none"/>
</g>
<g>
<g stroke="#fff" stroke-width="0.34"><circle cx="401.60" cy="355.00" r="2.22" fill="#1f77b4"/><circle cx="408.15" cy="355.00" r="2.22" fill="#1f77b4"/><circle cx="414.69" cy="355.00" r="2.22" fill="#1f77b4"/><circle cx="421.24" cy="355.00" r="2.22" fill="#1f77b4"/><circle cx="427.79" cy="355.00" r="2.22" fill="#1f77b4"/><circle cx="434.34" cy="355.00" r="2.22" fill="#1f77b4"/><circle cx="440.88" cy="355.00" r="2.22" fill="#1f77b4"/><circle cx="447.43" cy="355.00" r="2.22" fill="#1f77b4"/><circle cx="453.98" cy="355.00" r="2.22" fill="#ff7f0e"/><circle cx="460.52" cy="355.00" r="2.22" fill="#1f77b4"/><circle cx="467.07" cy="355.00" r="2.22" fill="#ff7f0e"/><circle cx="473.62" cy="355.00" r="2.22" fill="#ff7f0e"/><circle cx="480.16" cy="355.00" r="2.22" fill="#ff7f0e"/><circle cx="486.71" cy="355.00" r="2.22" fill="#ff7f0e"/><circle cx="493.26" cy="355.00" r="2.22" fill="#ff7f0e"/><circle cx="499.81" cy="355.00" r="2.22" fill="#1f77b4"/><circle cx="506.35" cy="355.00" r="2.22" fill="#ff7f0e"/><circle cx="401.60" cy="342.04" r="2.22" fill="#1f77b4"/><circle cx="408.15" cy="342.04" r="2.22" fill="#1f77b4"/><circle cx="414.69" cy="342.04" r="2.22" fill="#1f77b4"/><circle cx="421.24" cy="342.04" r="2.22" fill="#ff7f0e"/><circle cx="427.79" cy="342.04" r="2.22" fill="#1f77b4"/><circle cx="440.88" cy="342.04" r="2.22" fill="#ff7f0e"/><circle cx="447.43" cy="342.04" r="2.22" fill="#ff7f0e"/><circle cx="453.98" cy="342.04" r="2.22" fill="#ff7f0e"/><circle cx="401.60" cy="329.08" r="2.22" fill="#1f77b4"/><circle cx="408.15" cy="329.08" r="2.22" fill="#ff7f0e"/><circle cx="414.69" cy="329.08" r="2.22" fill="#ff7f0e"/><circle cx="427.79" cy="329.08" r="2.22" fill="#ff7f0e"/><circle cx="434.34" cy="329.08" r="2.22" fill="#ff7f0e"/><circle cx="440.88" cy="329.08" r="2.22" fill="#ff7f0e"/><circle cx="447.43" cy="329.08" r="2.22" fill="#ff7f0e"/><circle cx="480.16" cy="329.08" r="2.22" fill="#ff7f0e"/><circle cx="499.81" cy="329.08" r="2.22" fill="#ff7f0e"/><circle cx="401.60" cy="316.12" r="2.22" fill="#1f77b4"/><circle cx="401.60" cy="303.16" r="2.22" fill="#1f77b4"/><circle cx="427.79" cy="290.20" r="2.22" fill="#1f77b4"/><circle cx="401.60" cy="277.24" r="2.22" fill="#1f77b4"/><circle cx="401.60" cy="251.32" r="2.22" fill="#ff7f0e"/></g>
<path d="M396.45 246.10V360.40H511.80" fill="none" stroke="#000" stroke-width="0.58" stroke-linecap="square"/>
<path d="M401.60 360.40v2.5M434.34 360.40v2.5M467.07 360.40v2.5M499.81 360.40v2.5M396.45 355.00h-2.5M396.45 329.08h-2.5M396.45 303.16h-2.5M396.45 277.24h-2.5M396.45 251.32h-2.5" stroke="#000" stroke-width="0.58" fill="none"/>
</g>
<g>
<g stroke="#fff" stroke-width="0.34"><circle cx="36.85" cy="475.20" r="2.22" fill="#1f77b4"/><circle cx="36.85" cy="468.70" r="2.22" fill="#1f77b4"/><circle cx="36.85" cy="462.20" r="2.22" fill="#1f77b4"/><circle cx="36.85" cy="455.70" r="2.22" fill="#1f77b4"/><circle cx="36.85" cy="449.20" r="2.22" fill="#1f77b4"/><circle cx="36.85" cy="442.70" r="2.22" fill="#1f77b4"/><circle cx="36.85" cy="436.20" r="2.22" fill="#1f77b4"/><circle cx="36.85" cy="429.70" r="2.22" fill="#1f77b4"/><circle cx="36.85" cy="423.20" r="2.22" fill="#ff7f0e"/><circle cx="36.85" cy="416.70" r="2.22" fill="#1f77b4"/><circle cx="36.85" cy="410.20" r="2.22" fill="#ff7f0e"/><circle cx="36.85" cy="403.70" r="2.22" fill="#ff7f0e"/><circle cx="36.85" cy="397.20" r="2.22" fill="#ff7f0e"/><circle cx="36.85" cy="390.70" r="2.22" fill="#ff7f0e"/><circle cx="36.85" cy="384.20" r="2.22" fill="#ff7f0e"/><circle cx="36.85" cy="377.70" r="2.22" fill="#1f77b4"/><circle cx="36.85" cy="371.20" r="2.22" fill="#ff7f0e"/><circle cx="63.10" cy="475.20" r="2.22" fill="#1f77b4"/><circle cx="63.10" cy="468.70" r="2.22" fill="#ff7f0e"/><circle cx="63.10" cy="449.20" r="2.22" fill="#1f77b4"/><circle cx="89.35" cy="475.20" r="2.22" fill="#ff7f0e"/><circle cx="141.85" cy="475.20" r="2.22" fill="#ff7f0e"/></g>
<path d="M31.55 366.20V480.50H147.15" fill="none" stroke="#000" stroke-width="0.58" stroke-linecap="square"/>
<path d="M36.85 480.50v2.5M63.10 480.50v2.5M89.35 480.50v2.5M115.60 480.50v2.5M141.85 480.50v2.5M31.55 475.20h-2.5M31.55 442.70h-2.5M31.55 410.20h-2.5M31.55 377.70h-2.5" stroke="#000" stroke-width="0.58" fill="none"/>
</g>
<g>
<g stroke="#fff" stroke-width="0.34"><circle cx="193.27" cy="475.20" r="2.22" fill="#ff7f0e"/><circle cx="190.33" cy="475.20" r="2.22" fill="#ff7f0e"/><circle cx="187.88" cy="475.20" r="2.22" fill="#ff7f0e"/><circle cx="184.94" cy="475.20" r="2.22" fill="#ff7f0e"/><circle cx="180.54" cy="475.20" r="2.22" fill="#1f77b4"/><circle cx="178.09" cy="475.20" r="2.22" fill="#1f77b4"/><circle cx="175.64" cy="475.20" r="2.22" fill="#1f77b4"/><circle cx="173.19" cy="475.20" r="2.22" fill="#1f77b4"/><circle cx="170.74" cy="475.20" r="2.22" fill="#1f77b4"/><circle cx="168.29" cy="475.20" r="2.22" fill="#1f77b4"/><circle cx="165.36" cy="475.20" r="2.22" fill="#1f77b4"/><circle cx="162.91" cy="475.20" r="2.22" fill="#1f77b4"/><circle cx="160.46" cy="475.20" r="2.22" fill="#1f77b4"/><circle cx="158.50" cy="475.20" r="2.22" fill="#1f77b4"/><circle cx="195.03" cy="475.20" r="2.22" fill="#ff7f0e"/><circle cx="191.80" cy="475.20" r="2.22" fill="#ff7f0e"/><circle cx="189.20" cy="475.20" r="2.22" fill="#ff7f0e"/><circle cx="186.41" cy="475.20" r="2.22" fill="#ff7f0e"/><circle cx="182.50" cy="475.20" r="2.22" fill="#1f77b4"/><circle cx="179.31" cy="475.20" r="2.22" fill="#1f77b4"/><circle cx="177.11" cy="475.20" r="2.22" fill="#1f77b4"/><circle cx="174.42" cy="475.20" r="2.22" fill="#1f77b4"/><circle cx="171.72" cy="475.20" r="2.22" fill="#1f77b4"/><circle cx="169.47" cy="475.20" r="2.22" fill="#1f77b4"/><circle cx="166.82" cy="475.20" r="2.22" fill="#1f77b4"/><circle cx="164.08" cy="475.20" r="2.22" fill="#1f77b4"/><circle cx="161.88" cy="475.20" r="2.22" fill="#1f77b4"/><circle cx="159.19" cy="475.20" r="2.22" fill="#1f77b4"/><circle cx="199.15" cy="468.70" r="2.22" fill="#ff7f0e"/><circle cx="195.72" cy="468.70" r="2.22" fill="#ff7f0e"/><circle cx="191.80" cy="468.70" r="2.22" fill="#ff7f0e"/><circle cx="187.88" cy="468.70" r="2.22" fill="#ff7f0e"/><circle cx="181.52" cy="468.70" r="2.22" fill="#1f77b4"/><circle cx="177.60" cy="468.70" r="2.22" fill="#1f77b4"/><circle cx="174.17" cy="468.70" r="2.22" fill="#1f77b4"/><circle cx="172.60" cy="468.70" r="2.22" fill="#1f77b4"/><circle cx="170.74" cy="468.70" r="2.22" fill="#1f77b4"/><circle cx="165.85" cy="468.70" r="2.22" fill="#1f77b4"/><circle cx="161.44" cy="468.70" r="2.22" fill="#1f77b4"/><circle cx="160.07" cy="468.70" r="2.22" fill="#1f77b4"/><circle cx="158.50" cy="468.70" r="2.22" fill="#1f77b4"/><circle cx="197.68" cy="468.70" r="2.22" fill="#ff7f0e"/><circle cx="194.10" cy="468.70" r="2.22" fill="#ff7f0e"/><circle cx="190.09" cy="468.70" r="2.22" fill="#ff7f0e"/><circle cx="182.99" cy="468.70" r="2.22" fill="#ff7f0e"/><circle cx="185.58" cy="468.70" r="2.22" fill="#1f77b4"/><circle cx="179.75" cy="468.70" r="2.22" fill="#1f77b4"/><circle cx="175.74" cy="468.70" r="2.22" fill="#1f77b4"/><circle cx="168.59" cy="468.70" r="2.22" fill="#1f77b4"/><circle cx="163.64" cy="468.70" r="2.22" fill="#1f77b4"/><circle cx="159.48" cy="468.70" r="2.22" fill="#1f77b4"/><circle cx="199.63" cy="462.20" r="2.22" fill="#ff7f0e"/><circle cx="197.68" cy="462.20" r="2.22" fill="#ff7f0e"/><circle cx="193.27" cy="462.20" r="2.22" fill="#ff7f0e"/><circle cx="189.84" cy="462.20" r="2.22" fill="#ff7f0e"/><circle cx="186.41" cy="462.20" r="2.22" fill="#ff7f0e"/><circle cx="184.45" cy="462.20" r="2.22" fill="#ff7f0e"/><circle cx="182.99" cy="462.20" r="2.22" fill="#ff7f0e"/><circle cx="179.56" cy="462.20" r="2.22" fill="#ff7f0e"/><circle cx="176.13" cy="462.20" r="2.22" fill="#ff7f0e"/><circle cx="173.19" cy="462.20" r="2.22" fill="#ff7f0e"/><circle cx="168.78" cy="462.20" r="2.22" fill="#1f77b4"/><circle cx="165.36" cy="462.20" r="2.22" fill="#1f77b4"/><circle cx="162.42" cy="462.20" r="2.22" fill="#1f77b4"/><circle cx="195.47" cy="462.20" r="2.22" fill="#ff7f0e"/><circle cx="191.41" cy="462.20" r="2.22" fill="#ff7f0e"/><circle cx="188.27" cy="462.20" r="2.22" fill="#ff7f0e"/><circle cx="181.52" cy="462.20" r="2.22" fill="#ff7f0e"/><circle cx="177.99" cy="462.20" r="2.22" fill="#ff7f0e"/><circle cx="174.86" cy="462.20" r="2.22" fill="#ff7f0e"/><circle cx="170.35" cy="462.20" r="2.22" fill="#1f77b4"/><circle cx="167.22" cy="462.20" r="2.22" fill="#1f77b4"/><circle cx="164.08" cy="462.20" r="2.22" fill="#1f77b4"/><circle cx="160.07" cy="462.20" r="2.22" fill="#ff7f0e"/><circle cx="200.12" cy="455.70" r="2.22" fill="#ff7f0e"/><circle cx="199.15" cy="455.70" r="2.22" fill="#ff7f0e"/><circle cx="189.35" cy="455.70" r="2.22" fill="#ff7f0e"/><circle cx="186.41" cy="455.70" r="2.22" fill="#ff7f0e"/><circle cx="183.96" cy="455.70" r="2.22" fill="#ff7f0e"/><circle cx="176.62" cy="455.70" r="2.22" fill="#ff7f0e"/><circle cx="170.25" cy="455.70" r="2.22" fill="#ff7f0e"/><circle cx="160.95" cy="455.70" r="2.22" fill="#ff7f0e"/><circle cx="166.82" cy="455.70" r="2.22" fill="#1f77b4"/><circle cx="197.68" cy="455.70" r="2.22" fill="#ff7f0e"/><circle cx="190.97" cy="455.70" r="2.22" fill="#ff7f0e"/><circle cx="187.39" cy="455.70" r="2.22" fill="#ff7f0e"/><circle cx="185.14" cy="455.70" r="2.22" fill="#ff7f0e"/><circle cx="178.43" cy="455.70" r="2.22" fill="#ff7f0e"/><circle cx="181.52" cy="455.70" r="2.22" fill="#1f77b4"/><circle cx="171.72" cy="455.70" r="2.22" fill="#ff7f0e"/><circle cx="174.86" cy="455.70" r="2.22" fill="#1f77b4"/><circle cx="162.32" cy="455.70" r="2.22" fill="#ff7f0e"/><circle cx="168.59" cy="455.70" r="2.22" fill="#1f77b4"/><circle cx="165.01" cy="455.70" r="2.22" fill="#1f77b4"/><circle cx="169.76" cy="449.20" r="2.22" fill="#ff7f0e"/><circle cx="185.43" cy="449.20" r="2.22" fill="#ff7f0e"/><circle cx="175.64" cy="449.20" r="2.22" fill="#1f77b4"/><circle cx="179.07" cy="449.20" r="2.22" fill="#1f77b4"/><circle cx="170.74" cy="449.20" r="2.22" fill="#ff7f0e"/><circle cx="183.96" cy="449.20" r="2.22" fill="#ff7f0e"/><circle cx="187.39" cy="449.20" r="2.22" fill="#ff7f0e"/><circle cx="174.17" cy="449.20" r="2.22" fill="#1f77b4"/><circle cx="177.60" cy="449.20" r="2.22" fill="#1f77b4"/><circle cx="181.03" cy="449.20" r="2.22" fill="#1f77b4"/><circle cx="170.74" cy="442.70" r="2.22" fill="#ff7f0e"/><circle cx="178.58" cy="442.70" r="2.22" fill="#ff7f0e"/><circle cx="187.88" cy="442.70" r="2.22" fill="#ff7f0e"/><circle cx="190.33" cy="442.70" r="2.22" fill="#ff7f0e"/><circle cx="193.27" cy="442.70" r="2.22" fill="#ff7f0e"/><circle cx="171.72" cy="442.70" r="2.22" fill="#ff7f0e"/><circle cx="179.56" cy="442.70" r="2.22" fill="#ff7f0e"/><circle cx="186.90" cy="442.70" r="2.22" fill="#ff7f0e"/><circle cx="189.35" cy="442.70" r="2.22" fill="#ff7f0e"/><circle cx="191.80" cy="442.70" r="2.22" fill="#ff7f0e"/><circle cx="194.74" cy="442.70" r="2.22" fill="#ff7f0e"/><circle cx="175.15" cy="442.70" r="2.22" fill="#1f77b4"/><circle cx="173.19" cy="436.20" r="2.22" fill="#ff7f0e"/><circle cx="176.62" cy="436.20" r="2.22" fill="#ff7f0e"/><circle cx="180.54" cy="436.20" r="2.22" fill="#ff7f0e"/><circle cx="183.47" cy="436.20" r="2.22" fill="#ff7f0e"/><circle cx="193.27" cy="436.20" r="2.22" fill="#ff7f0e"/><circle cx="174.17" cy="436.20" r="2.22" fill="#ff7f0e"/><circle cx="175.64" cy="436.20" r="2.22" fill="#ff7f0e"/><circle cx="179.07" cy="436.20" r="2.22" fill="#ff7f0e"/><circle cx="182.01" cy="436.20" r="2.22" fill="#ff7f0e"/><circle cx="184.94" cy="436.20" r="2.22" fill="#ff7f0e"/><circle cx="192.29" cy="436.20" r="2.22" fill="#ff7f0e"/><circle cx="194.74" cy="436.20" r="2.22" fill="#ff7f0e"/><circle cx="169.76" cy="436.20" r="2.22" fill="#1f77b4"/><circle cx="183.47" cy="429.70" r="2.22" fill="#ff7f0e"/><circle cx="196.21" cy="429.70" r="2.22" fill="#ff7f0e"/><circle cx="182.01" cy="429.70" r="2.22" fill="#ff7f0e"/><circle cx="184.94" cy="429.70" r="2.22" fill="#ff7f0e"/><circle cx="194.98" cy="429.70" r="2.22" fill="#1f77b4"/><circle cx="184.94" cy="423.20" r="2.22" fill="#ff7f0e"/><circle cx="183.47" cy="423.20" r="2.22" fill="#ff7f0e"/><circle cx="186.41" cy="423.20" r="2.22" fill="#ff7f0e"/><circle cx="197.19" cy="416.70" r="2.22" fill="#1f77b4"/><circle cx="192.29" cy="410.20" r="2.22" fill="#ff7f0e"/><circle cx="194.74" cy="410.20" r="2.22" fill="#ff7f0e"/><circle cx="191.07" cy="410.20" r="2.22" fill="#ff7f0e"/><circle cx="193.51" cy="410.20" r="2.22" fill="#ff7f0e"/><circle cx="196.01" cy="410.20" r="2.22" fill="#ff7f0e"/><circle cx="193.27" cy="403.70" r="2.22" fill="#ff7f0e"/><circle cx="196.21" cy="403.70" r="2.22" fill="#ff7f0e"/><circle cx="192.04" cy="403.70" r="2.22" fill="#ff7f0e"/><circle cx="194.74" cy="403.70" r="2.22" fill="#ff7f0e"/><circle cx="197.19" cy="403.70" r="2.22" fill="#ff7f0e"/><circle cx="194.74" cy="397.20" r="2.22" fill="#ff7f0e"/><circle cx="196.70" cy="397.20" r="2.22" fill="#ff7f0e"/><circle cx="193.51" cy="397.20" r="2.22" fill="#ff7f0e"/><circle cx="195.72" cy="397.20" r="2.22" fill="#ff7f0e"/><circle cx="197.48" cy="397.20" r="2.22" fill="#ff7f0e"/><circle cx="196.21" cy="390.70" r="2.22" fill="#ff7f0e"/><circle cx="198.17" cy="390.70" r="2.22" fill="#ff7f0e"/><circle cx="194.98" cy="390.70" r="2.22" fill="#ff7f0e"/><circle cx="197.19" cy="390.70" r="2.22" fill="#ff7f0e"/><circle cx="199.39" cy="390.70" r="2.22" fill="#ff7f0e"/><circle cx="201.59" cy="384.20" r="2.22" fill="#ff7f0e"/><circle cx="203.55" cy="384.20" r="2.22" fill="#ff7f0e"/><circle cx="200.86" cy="384.20" r="2.22" fill="#ff7f0e"/><circle cx="202.72" cy="384.20" r="2.22" fill="#ff7f0e"/><circle cx="204.78" cy="384.20" r="2.22" fill="#ff7f0e"/><circle cx="203.55" cy="377.70" r="2.22" fill="#ff7f0e"/><circle cx="202.28" cy="377.70" r="2.22" fill="#ff7f0e"/><circle cx="205.22" cy="377.70" r="2.22" fill="#ff7f0e"/><circle cx="263.79" cy="377.70" r="2.22" fill="#1f77b4"/><circle cx="204.78" cy="371.20" r="2.22" fill="#ff7f0e"/><circle cx="206.00" cy="371.20" r="2.22" fill="#ff7f0e"/></g>
<path d="M153.50 366.20V480.50H269.00" fill="none" stroke="#000" stroke-width="0.58" stroke-linecap="square"/>
<path d="M158.50 480.50v2.5M182.99 480.50v2.5M207.47 480.50v2.5M231.95 480.50v2.5M256.44 480.50v2.5M153.50 475.20h-2.5M153.50 442.70h-2.5M153.50 410.20h-2.5M153.50 377.70h-2.5" stroke="#000" stroke-width="0.58" fill="none"/>
</g>
<g>
<g stroke="#fff" stroke-width="0.34"><circle cx="280.00" cy="475.20" r="2.22" fill="#1f77b4"/><circle cx="280.00" cy="468.70" r="2.22" fill="#1f77b4"/><circle cx="280.00" cy="462.20" r="2.22" fill="#1f77b4"/><circle cx="280.00" cy="455.70" r="2.22" fill="#1f77b4"/><circle cx="280.00" cy="449.20" r="2.22" fill="#1f77b4"/><circle cx="280.00" cy="442.70" r="2.22" fill="#1f77b4"/><circle cx="280.00" cy="436.20" r="2.22" fill="#1f77b4"/><circle cx="280.00" cy="429.70" r="2.22" fill="#1f77b4"/><circle cx="280.00" cy="423.20" r="2.22" fill="#ff7f0e"/><circle cx="280.00" cy="416.70" r="2.22" fill="#1f77b4"/><circle cx="280.00" cy="410.20" r="2.22" fill="#ff7f0e"/><circle cx="280.00" cy="403.70" r="2.22" fill="#ff7f0e"/><circle cx="280.00" cy="397.20" r="2.22" fill="#ff7f0e"/><circle cx="280.00" cy="390.70" r="2.22" fill="#ff7f0e"/><circle cx="280.00" cy="384.20" r="2.22" fill="#ff7f0e"/><circle cx="280.00" cy="377.70" r="2.22" fill="#1f77b4"/><circle cx="280.00" cy="371.20" r="2.22" fill="#ff7f0e"/><circle cx="293.12" cy="475.20" r="2.22" fill="#1f77b4"/><circle cx="293.12" cy="468.70" r="2.22" fill="#1f77b4"/><circle cx="293.12" cy="462.20" r="2.22" fill="#1f77b4"/><circle cx="293.12" cy="455.70" r="2.22" fill="#ff7f0e"/><circle cx="293.12" cy="449.20" r="2.22" fill="#1f77b4"/><circle cx="293.12" cy="436.20" r="2.22" fill="#ff7f0e"/><circle cx="293.12" cy="429.70" r="2.22" fill="#ff7f0e"/><circle cx="293.12" cy="423.20" r="2.22" fill="#ff7f0e"/><circle cx="306.25" cy="475.20" r="2.22" fill="#1f77b4"/><circle cx="306.25" cy="468.70" r="2.22" fill="#ff7f0e"/><circle cx="306.25" cy="462.20" r="2.22" fill="#ff7f0e"/><circle cx="306.25" cy="449.20" r="2.22" fill="#ff7f0e"/><circle cx="306.25" cy="442.70" r="2.22" fill="#ff7f0e"/><circle cx="306.25" cy="436.20" r="2.22" fill="#ff7f0e"/><circle cx="306.25" cy="429.70" r="2.22" fill="#ff7f0e"/><circle cx="306.25" cy="397.20" r="2.22" fill="#ff7f0e"/><circle cx="306.25" cy="377.70" r="2.22" fill="#ff7f0e"/><circle cx="319.38" cy="475.20" r="2.22" fill="#1f77b4"/><circle cx="332.50" cy="475.20" r="2.22" fill="#1f77b4"/><circle cx="345.62" cy="449.20" r="2.22" fill="#1f77b4"/><circle cx="358.75" cy="475.20" r="2.22" fill="#1f77b4"/><circle cx="385.00" cy="475.20" r="2.22" fill="#ff7f0e"/></g>
<path d="M274.65 366.20V480.50H390.30" fill="none" stroke="#000" stroke-width="0.58" stroke-linecap="square"/>
<path d="M280.00 480.50v2.5M306.25 480.50v2.5M332.50 480.50v2.5M358.75 480.50v2.5M385.00 480.50v2.5M274.65 475.20h-2.5M274.65 442.70h-2.5M274.65 410.20h-2.5M274.65 377.70h-2.5" stroke="#000" stroke-width="0.58" fill="none"/>
</g>
<g>
<rect x="401.30" y="457.30" width="0.85" height="23.20" fill="#ff7f0e" fill-opacity="0.5"/><rect x="407.85" y="457.80" width="0.85" height="22.70" fill="#ff7f0e" fill-opacity="0.5"/><rect x="414.39" y="469.60" width="0.85" height="10.90" fill="#ff7f0e" fill-opacity="0.5"/><rect x="420.94" y="479.30" width="0.85" height="1.20" fill="#ff7f0e" fill-opacity="0.5"/><rect x="427.49" y="478.30" width="0.85" height="2.20" fill="#ff7f0e" fill-opacity="0.5"/><rect x="434.04" y="479.70" width="0.85" height="0.80" fill="#ff7f0e" fill-opacity="0.5"/><rect x="440.58" y="479.90" width="0.85" height="0.60" fill="#ff7f0e" fill-opacity="0.5"/><rect x="447.13" y="480.00" width="0.85" height="0.50" fill="#ff7f0e" fill-opacity="0.5"/><rect x="401.30" y="384.00" width="0.85" height="96.50" fill="#1f77b4" fill-opacity="0.5"/><rect x="407.85" y="470.80" width="0.85" height="9.70" fill="#1f77b4" fill-opacity="0.5"/><rect x="414.39" y="477.10" width="0.85" height="3.40" fill="#1f77b4" fill-opacity="0.5"/><rect x="420.94" y="479.90" width="0.85" height="0.60" fill="#1f77b4" fill-opacity="0.5"/><rect x="427.49" y="480.10" width="0.85" height="0.40" fill="#1f77b4" fill-opacity="0.5"/>
<path d="M396.45 366.20V480.50H511.80" fill="none" stroke="#000" stroke-width="0.58" stroke-linecap="square"/>
<path d="M401.60 480.50v2.5M434.34 480.50v2.5M467.07 480.50v2.5M499.81 480.50v2.5M396.45 475.20h-2.5M396.45 442.70h-2.5M396.45 410.20h-2.5M396.45 377.70h-2.5" stroke="#000" stroke-width="0.58" fill="none"/>
</g>
<g font-family="'DejaVu Sans', 'Liberation Sans', sans-serif" font-size="7.15" fill="#000" stroke="#000" stroke-width="0.12">
<text x="26.55" y="117.40" text-anchor="end">0</text>
<text x="26.55" y="91.37" text-anchor="end">1</text>
<text x="26.55" y="65.34" text-anchor="end">2</text>
<text x="26.55" y="39.31" text-anchor="end">3</text>
<text x="26.55" y="13.28" text-anchor="end">4</text>
<text x="26.55" y="237.65" text-anchor="end">0</text>
<text x="26.55" y="213.56" text-anchor="end">50</text>
<text x="26.55" y="189.47" text-anchor="end">100</text>
<text x="26.55" y="165.38" text-anchor="end">150</text>
<text x="26.55" y="141.29" text-anchor="end">200</text>
<text x="26.55" y="358.00" text-anchor="end">0</text>
<text x="26.55" y="332.08" text-anchor="end">2</text>
<text x="26.55" y="306.16" text-anchor="end">4</text>
<text x="26.55" y="280.24" text-anchor="end">6</text>
<text x="26.55" y="254.32" text-anchor="end">8</text>
<text x="26.55" y="478.20" text-anchor="end">0</text>
<text x="26.55" y="445.70" text-anchor="end">5</text>
<text x="26.55" y="413.20" text-anchor="end">10</text>
<text x="26.55" y="380.70" text-anchor="end">15</text>
<text x="36.85" y="491.7" text-anchor="middle">0</text>
<text x="63.10" y="491.7" text-anchor="middle">1</text>
<text x="89.35" y="491.7" text-anchor="middle">2</text>
<text x="115.60" y="491.7" text-anchor="middle">3</text>
<text x="141.85" y="491.7" text-anchor="middle">4</text>
<text x="89.35" y="502.0" text-anchor="middle">no_mult_cmnt</text>
<text x="158.50" y="491.7" text-anchor="middle">0</text>
<text x="182.99" y="491.7" text-anchor="middle">50</text>
<text x="207.47" y="491.7" text-anchor="middle">100</text>
<text x="231.95" y="491.7" text-anchor="middle">150</text>
<text x="256.44" y="491.7" text-anchor="middle">200</text>
<text x="211.25" y="502.0" text-anchor="middle">no_space</text>
<text x="280.00" y="491.7" text-anchor="middle">0</text>
<text x="306.25" y="491.7" text-anchor="middle">2</text>
<text x="332.50" y="491.7" text-anchor="middle">4</text>
<text x="358.75" y="491.7" text-anchor="middle">6</text>
<text x="385.00" y="491.7" text-anchor="middle">8</text>
<text x="332.48" y="502.0" text-anchor="middle">no_perc</text>
<text x="401.60" y="491.7" text-anchor="middle">0</text>
<text x="434.34" y="491.7" text-anchor="middle">5</text>
<text x="467.07" y="491.7" text-anchor="middle">10</text>
<text x="499.81" y="491.7" text-anchor="middle">15</text>
<text x="454.12" y="502.0" text-anchor="middle">no_log_opt</text>
<text transform="translate(16.9 63.50) rotate(-90)" text-anchor="middle">no_mult_cmnt</text>
<text transform="translate(8.2 184.02) rotate(-90)" text-anchor="middle">no_space</text>
<text transform="translate(16.9 304.45) rotate(-90)" text-anchor="middle">no_perc</text>
<text transform="translate(12.2 424.55) rotate(-90)" text-anchor="middle">no_log_opt</text>
<text x="532.4" y="245.2" text-anchor="middle">Label</text>
<text x="543.3" y="256.6" text-anchor="middle">0</text>
<text x="543.3" y="267.3" text-anchor="middle">1</text>
</g>
<g stroke="#fff" stroke-width="0.34"><circle cx="528" cy="254.4" r="2.5" fill="#1f77b4"/><circle cx="528" cy="265.2" r="2.5" fill="#ff7f0e"/></g>
</svg>
</body></html>
